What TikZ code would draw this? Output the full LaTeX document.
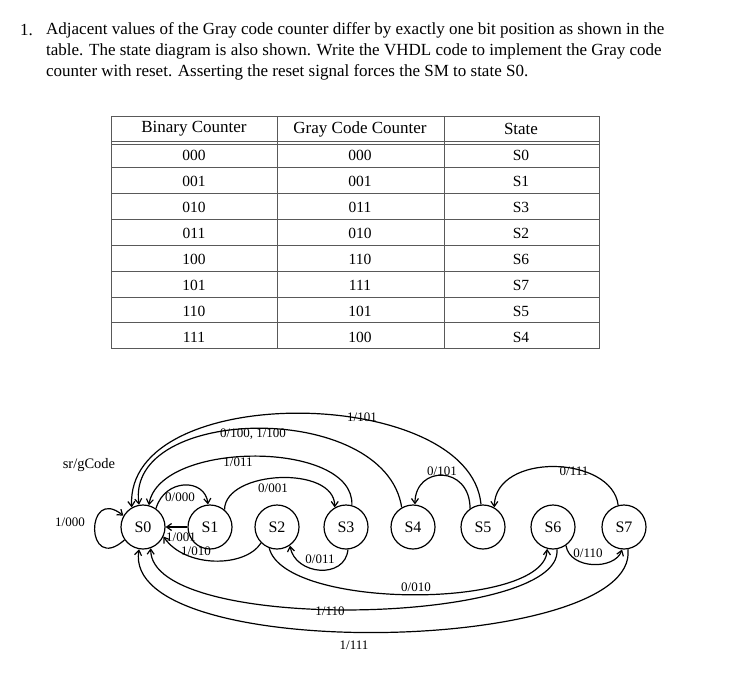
\documentclass[tikz,border=0pt]{standalone}
\usepackage{fontspec}
\setmainfont{Liberation Serif}
\usetikzlibrary{arrows.meta}
\begin{document}
\begin{tikzpicture}[x=1pt,y=-1pt,
  st/.style={draw,line width=1.2pt,circle,minimum size=44pt,inner sep=0pt,font=\fontsize{16}{18}\selectfont},
  lab/.style={font=\fontsize{13}{15}\selectfont,inner sep=1pt},
  tt/.style={font=\fontsize{17}{20}\selectfont,anchor=west,inner sep=0pt},
  cell/.style={font=\fontsize{15.5}{18}\selectfont,inner sep=0pt},
  hd/.style={font=\fontsize{17}{20}\selectfont,inner sep=0pt},
  arr/.style={-{Straight Barb[length=5pt,width=7pt]},line width=1.2pt}]
\useasboundingbox (0,0) rectangle (738,676);
\node[tt] (n1) at (20,30) {1.};
\node[tt] (l1) at (46,30) {Adjacent values of the Gray code counter differ by exactly one bit position as shown in the};
\node[tt] (l2) at (46,51) {table. The state diagram is also shown. Write the VHDL code to implement the Gray code};
\node[tt] (l3) at (46,72) {counter with reset. Asserting the reset signal forces the SM to state S0.};
% table
\draw[gray!70!black,line width=1pt] (111,117) rectangle (599,348);
\foreach \y in {141,144,167,193,219,245,271,297,322} \draw[gray!70!black,line width=0.8pt] (111,\y) -- (599,\y);
\draw[gray!70!black,line width=1pt] (277,117) -- (277,348) (444,117) -- (444,348);
\node[hd] (h1) at (194,129) {Binary Counter};
\node[hd] (h2) at (360,129) {Gray Code Counter};
\node[hd] (h3) at (521,129) {State};
\foreach \a/\b/\c [count=\i] in {000/000/S0,001/001/S1,010/011/S3,011/010/S2,100/110/S6,101/111/S7,110/101/S5,111/100/S4}{
  \node[cell] (a\i) at (194,{129+26*\i}) {\a};
  \node[cell] (b\i) at (360,{129+26*\i}) {\b};
  \node[cell] (c\i) at (521,{129+26*\i}) {\c};
}
% states
\node[st] (S0) at (143,527) {S0};
\node[st] (S1) at (210,527) {S1};
\node[st] (S2) at (277,527) {S2};
\node[st] (S3) at (346,527) {S3};
\node[st] (S4) at (413,527) {S4};
\node[st] (S5) at (483,527) {S5};
\node[st] (S6) at (553,527) {S6};
\node[st] (S7) at (624,527) {S7};
\node[lab,font=\fontsize{14.5}{16}\selectfont] (sr) at (89,465) {sr/gCode};
\draw[arr] (S0.215) .. controls (85,575) and (85,485) .. (S0.150);
\node[lab] (t1) at (70,522) {1/000};
\draw[arr] (S0.55) .. controls (165,478) and (205,478) .. (S1.95);
\node[lab] (t2) at (180,497) {0/000};
\draw[arr] (S1.180) -- (S0.0);
\node[lab] (t3) at (181,537) {1/001};
\draw[arr] (S2.225) .. controls (245,568) and (185,568) .. (S0.-25);
\node[lab] (t4) at (196,551) {1/010};
\draw[arr] (S1.50) .. controls (225,470) and (335,465) .. (S3.120);
\node[lab] (t5) at (273,488) {0/001};
\draw[arr] (S3.275) .. controls (345,580) and (295,575) .. (S2.-55);
\node[lab] (t6) at (320,559) {0/011};
\draw[arr] (S3.75) .. controls (355,440) and (160,440) .. (S0.75);
\node[lab] (t7) at (238,462) {1/011};
\draw[arr] (S4.120) .. controls (385,400) and (125,405) .. (S0.100);
\node[lab] (t8) at (253,434) {0/100, 1/100};
\draw[arr] (S5.95) .. controls (470,385) and (125,380) .. (S0.120);
\node[lab] (t9) at (362,417) {1/101};
\draw[arr] (S5.125) .. controls (470,465) and (415,465) .. (S4.85);
\node[lab] (t10) at (442,471) {0/101};
\draw[arr] (S7.105) .. controls (612,455) and (495,452) .. (S5.60);
\node[lab] (t11) at (574,471) {0/111};
\draw[arr] (S6.-55) .. controls (570,570) and (615,570) .. (S7.-95);
\node[lab] (t12) at (588,553) {0/110};
\draw[arr] (S2.-110) .. controls (285,610) and (545,610) .. (S6.-105);
\node[lab] (t13) at (416,587) {0/010};
\draw[arr] (S6.-80) .. controls (565,625) and (150,635) .. (S0.-70);
\node[lab] (t14) at (330,611) {1/110};
\draw[arr] (S7.-80) .. controls (640,655) and (120,665) .. (S0.-100);
\node[lab] (t15) at (354,645) {1/111};
\end{tikzpicture}
\end{document}
